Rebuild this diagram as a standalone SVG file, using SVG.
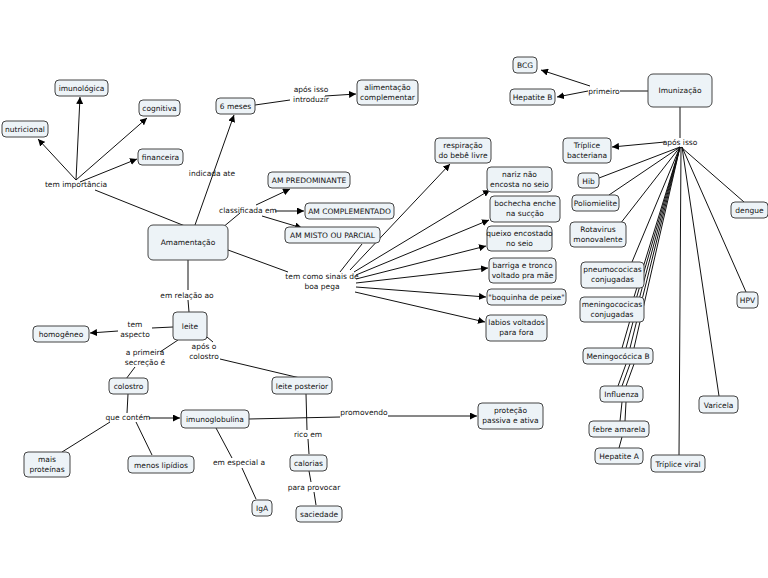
<svg xmlns="http://www.w3.org/2000/svg" width="768" height="578" viewBox="0 0 768 578">
<defs>
<marker id="a" viewBox="0 0 10 10" refX="10" refY="5" markerWidth="7" markerHeight="7" orient="auto" markerUnits="userSpaceOnUse"><path d="M0,0 L10,5 L0,10 z" fill="#000"/></marker>
<style>
.n rect{fill:#edf3f7;stroke:#444;stroke-width:1}
text{font-family:"DejaVu Sans",Verdana,sans-serif;font-size:7.5px;fill:#111;text-anchor:middle}
#c path{stroke:#111;stroke-width:1;fill:none}
.ar{marker-end:url(#a)}
</style>
</defs>
<rect width="768" height="578" fill="#fff"/>
<g id="c">
<path d="M185,226 L95,190"/>
<path d="M76,180 L38,139" class="ar"/>
<path d="M76,180 L80,97" class="ar"/>
<path d="M76,180 L147,118" class="ar"/>
<path d="M80,182 L137,159" class="ar"/>
<path d="M195,225 L234,115" class="ar"/>
<path d="M255,105 L290,100"/>
<path d="M325,96 L356,94" class="ar"/>
<path d="M222,228 L240,213"/>
<path d="M256,205 L290,189" class="ar"/>
<path d="M275,211 L304,211" class="ar"/>
<path d="M262,216 L302,228" class="ar"/>
<path d="M228,250 L288,272"/>
<path d="M340,272 L362,244"/>
<path d="M350,270 L450,164" class="ar"/>
<path d="M354,272 L490,190" class="ar"/>
<path d="M356,275 L489,220" class="ar"/>
<path d="M356,279 L486,246" class="ar"/>
<path d="M356,283 L488,268" class="ar"/>
<path d="M356,287 L486,297" class="ar"/>
<path d="M355,292 L485,322" class="ar"/>
<path d="M188,260 L188,290"/><path d="M188,300 L189,312"/>
<path d="M173,327 L152,328"/><path d="M118,331 L90,333" class="ar"/>
<path d="M178,340 L160,352"/><path d="M135,367 L126,379"/>
<path d="M207,337 L213,342"/><path d="M220,359 L300,378"/>
<path d="M128,394 L127,413"/>
<path d="M149,418 L180,418" class="ar"/>
<path d="M110,422 L62,452"/>
<path d="M136,422 L152,455"/>
<path d="M249,419 L340,417"/><path d="M388,416 L477,416" class="ar"/>
<path d="M216,428 L232,458"/><path d="M242,468 L256,499"/>
<path d="M306,394 L307,430"/><path d="M308,439 L309,454"/>
<path d="M309,471 L311,482"/><path d="M314,492 L316,505"/>
<path d="M648,91 L620,91"/>
<path d="M588,91 L557,97" class="ar"/>
<path d="M590,86 L541,70" class="ar"/>
<path d="M680,107 L680,138"/>
<path d="M665,142 L612,147" class="ar"/>
<path d="M680,147 L599,178"/>
<path d="M680,147 L609,195"/>
<path d="M680,147 L620,224"/>
<path d="M680,147 L632,262"/>
<path d="M680,147 L634,297"/>
<path d="M681,147 L744,202"/>
<path d="M682,147 L746,292"/>
<path d="M680,147 L622,348"/><path d="M680,147 L626,348"/><path d="M680,147 L630,348"/><path d="M680,147 L634,348"/>
<path d="M626,364 L618,386"/><path d="M630,364 L622,386"/><path d="M634,364 L626,386"/>
<path d="M622,402 L620,421"/><path d="M626,402 L625,421"/>
<path d="M622,437 L619,448"/>
<path d="M682,147 L719,396"/>
<path d="M681,147 L679,455"/>
</g>
<g id="labels">
<text x="76" y="187">tem importância</text>
<text x="212" y="176">indicada ate</text>
<text x="311" y="92">após isso</text><text x="311" y="102">introduzir</text>
<text x="248" y="213">classificada em</text>
<text x="322" y="279">tem como sinais de</text><text x="322" y="289">boa pega</text>
<text x="187" y="298">em relação ao</text>
<text x="135" y="327">tem</text><text x="135" y="337">aspecto</text>
<text x="145" y="355">a primeira</text><text x="145" y="365">secreção é</text>
<text x="204" y="349">após o</text><text x="204" y="359">colostro</text>
<text x="128" y="420">que contém</text>
<text x="364" y="415">promovendo</text>
<text x="308" y="437">rico em</text>
<text x="239" y="465">em especial a</text>
<text x="314" y="490">para provocar</text>
<text x="604" y="94">primeiro</text>
<text x="680" y="145">após isso</text>
</g>
<g id="imunologica" class="n"><rect x="55" y="80" width="53" height="16" rx="4"/><text x="81.5" y="91">imunológica</text></g>
<g id="cognitiva" class="n"><rect x="139" y="100" width="41" height="16" rx="4"/><text x="159.5" y="111">cognitiva</text></g>
<g id="nutricional" class="n"><rect x="2" y="121" width="46" height="16" rx="4"/><text x="25" y="132">nutricional</text></g>
<g id="financeira" class="n"><rect x="138" y="149" width="45" height="16" rx="4"/><text x="160.5" y="160">financeira</text></g>
<g id="seis" class="n"><rect x="216" y="98" width="39" height="16" rx="4"/><text x="235.5" y="109">6 meses</text></g>
<g id="alim" class="n"><rect x="357" y="80" width="61" height="25" rx="4"/><text x="387.5" y="90">alimentação</text><text x="387.5" y="100">complementar</text></g>
<g id="amp" class="n"><rect x="268" y="172" width="82" height="16" rx="4"/><text x="309" y="183">AM PREDOMINANTE</text></g>
<g id="amc" class="n"><rect x="305" y="203" width="89" height="16" rx="4"/><text x="349.5" y="214">AM COMPLEMENTADO</text></g>
<g id="amm" class="n"><rect x="285" y="227" width="95" height="16" rx="4"/><text x="332.5" y="238">AM MISTO OU PARCIAL</text></g>
<g id="amamentacao" class="n"><rect x="148" y="225" width="80" height="35" rx="5"/><text x="188" y="245">Amamentação</text></g>
<g id="resp" class="n"><rect x="435" y="138" width="56" height="25" rx="4"/><text x="463" y="148">respiração</text><text x="463" y="158">do bebê livre</text></g>
<g id="nariz" class="n"><rect x="487" y="167" width="65" height="25" rx="4"/><text x="519.5" y="177">nariz não</text><text x="519.5" y="187">encosta no seio</text></g>
<g id="boch" class="n"><rect x="490" y="196" width="70" height="26" rx="4"/><text x="525" y="206">bochecha enche</text><text x="525" y="216">na sucção</text></g>
<g id="queixo" class="n"><rect x="487" y="226" width="65" height="25" rx="4"/><text x="519.5" y="236">queixo encostado</text><text x="519.5" y="246">no seio</text></g>
<g id="barriga" class="n"><rect x="489" y="258" width="67" height="25" rx="4"/><text x="522.5" y="268">barriga e tronco</text><text x="522.5" y="278">voltado pra mãe</text></g>
<g id="boq" class="n"><rect x="487" y="289" width="79" height="16" rx="4"/><text x="526.5" y="300">"boquinha de peixe"</text></g>
<g id="labios" class="n"><rect x="486" y="315" width="61" height="26" rx="4"/><text x="516.5" y="325">labios voltados</text><text x="516.5" y="335">para fora</text></g>
<g id="leite" class="n"><rect x="173" y="312" width="34" height="28" rx="4"/><text x="190" y="329">leite</text></g>
<g id="homog" class="n"><rect x="33" y="326" width="56" height="16" rx="4"/><text x="61" y="337">homogêneo</text></g>
<g id="colostro" class="n"><rect x="109" y="378" width="39" height="16" rx="4"/><text x="128.5" y="389">colostro</text></g>
<g id="lp" class="n"><rect x="272" y="377" width="60" height="17" rx="4"/><text x="302" y="389">leite posterior</text></g>
<g id="imunog" class="n"><rect x="181" y="410" width="68" height="18" rx="4"/><text x="215" y="422">imunoglobulina</text></g>
<g id="prot" class="n"><rect x="478" y="403" width="65" height="26" rx="4"/><text x="510.5" y="413">proteção</text><text x="510.5" y="423">passiva e ativa</text></g>
<g id="mais" class="n"><rect x="24" y="452" width="46" height="25" rx="4"/><text x="47" y="462">mais</text><text x="47" y="472">proteínas</text></g>
<g id="menos" class="n"><rect x="128" y="456" width="66" height="17" rx="4"/><text x="161" y="468">menos lipídios</text></g>
<g id="calorias" class="n"><rect x="290" y="455" width="37" height="16" rx="4"/><text x="308.5" y="466">calorias</text></g>
<g id="iga" class="n"><rect x="252" y="500" width="20" height="16" rx="4"/><text x="262" y="511">IgA</text></g>
<g id="saciedade" class="n"><rect x="296" y="506" width="46" height="16" rx="4"/><text x="319" y="517">saciedade</text></g>
<g id="bcg" class="n"><rect x="513" y="57" width="24" height="16" rx="4"/><text x="525" y="68">BCG</text></g>
<g id="hepb" class="n"><rect x="510" y="89" width="45" height="16" rx="4"/><text x="532.5" y="100">Hepatite B</text></g>
<g id="imunizacao" class="n"><rect x="648" y="74" width="64" height="33" rx="5"/><text x="680" y="93">Imunização</text></g>
<g id="tb" class="n"><rect x="563" y="138" width="48" height="25" rx="4"/><text x="587" y="148">Tríplice</text><text x="587" y="158">bacteriana</text></g>
<g id="hib" class="n"><rect x="578" y="173" width="21" height="15" rx="4"/><text x="588.5" y="184">Hib</text></g>
<g id="polio" class="n"><rect x="572" y="195" width="47" height="16" rx="4"/><text x="595.5" y="206">Poliomielite</text></g>
<g id="rota" class="n"><rect x="570" y="222" width="56" height="25" rx="4"/><text x="598" y="232">Rotavirus</text><text x="598" y="242">monovalente</text></g>
<g id="pneumo" class="n"><rect x="581" y="262" width="63" height="26" rx="4"/><text x="612.5" y="272">pneumococicas</text><text x="612.5" y="282">conjugadas</text></g>
<g id="mening" class="n"><rect x="580" y="297" width="64" height="25" rx="4"/><text x="612" y="307">meningococicas</text><text x="612" y="317">conjugadas</text></g>
<g id="dengue" class="n"><rect x="731" y="202" width="37" height="16" rx="4"/><text x="749.5" y="213">dengue</text></g>
<g id="hpv" class="n"><rect x="737" y="292" width="21" height="16" rx="4"/><text x="747.5" y="303">HPV</text></g>
<g id="menb" class="n"><rect x="583" y="348" width="70" height="16" rx="4"/><text x="618" y="359">Meningocócica B</text></g>
<g id="influenza" class="n"><rect x="600" y="386" width="43" height="16" rx="4"/><text x="621.5" y="397">Influenza</text></g>
<g id="varicela" class="n"><rect x="699" y="396" width="39" height="17" rx="4"/><text x="718.5" y="408">Varicela</text></g>
<g id="febre" class="n"><rect x="589" y="421" width="60" height="16" rx="4"/><text x="619" y="432">febre amarela</text></g>
<g id="hepa" class="n"><rect x="595" y="448" width="48" height="16" rx="4"/><text x="619" y="459">Hepatite A</text></g>
<g id="tv" class="n"><rect x="651" y="455" width="54" height="17" rx="4"/><text x="678" y="467">Tríplice viral</text></g>
</svg>
